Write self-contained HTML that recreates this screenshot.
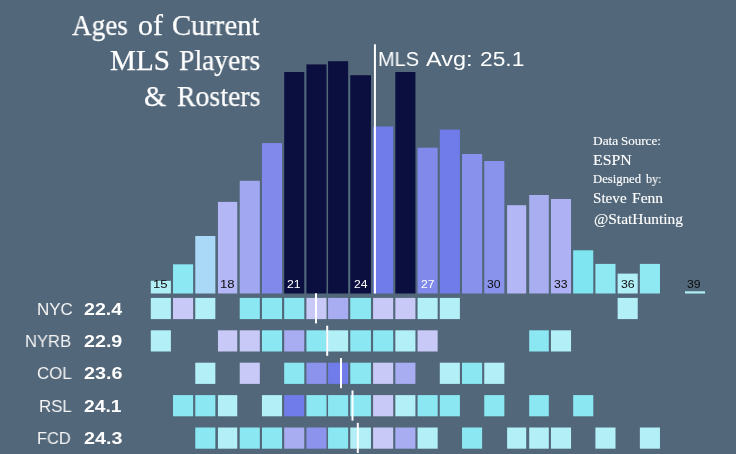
<!DOCTYPE html>
<html><head><meta charset="utf-8"><title>Ages of Current MLS Players &amp; Rosters</title>
<style>
html,body{margin:0;padding:0;background:#52677a;}
body{width:736px;height:454px;overflow:hidden;position:relative;font-family:"Liberation Sans",sans-serif;}
svg{position:absolute;left:0;top:0;}
.w{position:absolute;display:block;white-space:nowrap;color:#fff;transform-origin:0 0;will-change:transform;}
.se{font-family:"Liberation Serif",serif;-webkit-text-stroke:0.12px #fff;}
.tt{-webkit-text-stroke:0.25px #fff;}
.sa{font-family:"Liberation Sans",sans-serif;}
</style></head><body>
<svg width="736" height="454" viewBox="0 0 736 454">
<rect x="150.80" y="280.8" width="20.1" height="12.70" fill="#b0eff6"/>
<rect x="173.03" y="264.3" width="20.1" height="29.20" fill="#8ce9f3"/>
<rect x="195.26" y="236.0" width="20.1" height="57.50" fill="#a9d9f6"/>
<rect x="217.95" y="201.9" width="19.3" height="91.60" fill="#b4b7f6"/>
<rect x="239.72" y="180.8" width="20.1" height="112.70" fill="#a1a7f1"/>
<rect x="261.95" y="143.1" width="20.1" height="150.40" fill="#818aea"/>
<rect x="284.18" y="72.0" width="20.1" height="221.50" fill="#0a0f40"/>
<rect x="306.41" y="64.4" width="20.1" height="229.10" fill="#0a0f40"/>
<rect x="328.05" y="61.2" width="20.1" height="232.30" fill="#0a0f40"/>
<rect x="350.25" y="75.2" width="20.7" height="218.30" fill="#0a0f40"/>
<rect x="373.10" y="126.5" width="20.1" height="167.00" fill="#6f7cea"/>
<rect x="395.33" y="72.0" width="20.1" height="221.50" fill="#0a0f40"/>
<rect x="417.56" y="147.7" width="20.1" height="145.80" fill="#818aea"/>
<rect x="439.79" y="129.6" width="20.1" height="163.90" fill="#6f7cea"/>
<rect x="462.02" y="154.0" width="20.1" height="139.50" fill="#8891ec"/>
<rect x="484.25" y="161.0" width="20.1" height="132.50" fill="#8a93ec"/>
<rect x="507.10" y="205.2" width="19.1" height="88.30" fill="#b4b7f6"/>
<rect x="529.20" y="195.0" width="19.6" height="98.50" fill="#a9aef1"/>
<rect x="550.94" y="199.0" width="20.1" height="94.50" fill="#aeb2f4"/>
<rect x="573.17" y="250.3" width="20.1" height="43.20" fill="#7fe6f1"/>
<rect x="595.40" y="263.9" width="20.1" height="29.60" fill="#8fe9f3"/>
<rect x="617.63" y="273.6" width="20.1" height="19.90" fill="#b0eff6"/>
<rect x="639.86" y="263.9" width="20.1" height="29.60" fill="#8fe9f3"/>
<rect x="685.00" y="291.3" width="20.1" height="2.20" fill="#b0eff6"/>
<rect x="150.80" y="297.90" width="20.1" height="21.2" fill="#b2eff6"/>
<rect x="173.03" y="297.90" width="20.1" height="21.2" fill="#c9c9f8"/>
<rect x="195.26" y="297.90" width="20.1" height="21.2" fill="#b2eff6"/>
<rect x="239.72" y="297.90" width="20.1" height="21.2" fill="#8be8f3"/>
<rect x="261.95" y="297.90" width="20.1" height="21.2" fill="#8be8f3"/>
<rect x="284.18" y="297.90" width="20.1" height="21.2" fill="#8be8f3"/>
<rect x="306.41" y="297.90" width="20.1" height="21.2" fill="#c9c9f8"/>
<rect x="328.05" y="297.90" width="20.1" height="21.2" fill="#a8adf2"/>
<rect x="350.25" y="297.90" width="20.7" height="21.2" fill="#8be8f3"/>
<rect x="373.10" y="297.90" width="20.1" height="21.2" fill="#c9c9f8"/>
<rect x="395.33" y="297.90" width="20.1" height="21.2" fill="#c9c9f8"/>
<rect x="417.56" y="297.90" width="20.1" height="21.2" fill="#b2eff6"/>
<rect x="439.79" y="297.90" width="20.1" height="21.2" fill="#b2eff6"/>
<rect x="617.63" y="297.90" width="20.1" height="21.2" fill="#b2eff6"/>
<rect x="315.00" y="293.30" width="2" height="30.1" fill="#fff"/>
<rect x="150.80" y="330.30" width="20.1" height="21.2" fill="#b2eff6"/>
<rect x="217.95" y="330.30" width="19.3" height="21.2" fill="#c9c9f8"/>
<rect x="239.72" y="330.30" width="20.1" height="21.2" fill="#c9c9f8"/>
<rect x="261.95" y="330.30" width="20.1" height="21.2" fill="#8be8f3"/>
<rect x="284.18" y="330.30" width="20.1" height="21.2" fill="#a8adf2"/>
<rect x="306.41" y="330.30" width="20.1" height="21.2" fill="#8be8f3"/>
<rect x="328.05" y="330.30" width="20.1" height="21.2" fill="#b2eff6"/>
<rect x="350.25" y="330.30" width="20.7" height="21.2" fill="#8be8f3"/>
<rect x="373.10" y="330.30" width="20.1" height="21.2" fill="#8be8f3"/>
<rect x="395.33" y="330.30" width="20.1" height="21.2" fill="#b2eff6"/>
<rect x="417.56" y="330.30" width="20.1" height="21.2" fill="#c9c9f8"/>
<rect x="529.20" y="330.30" width="19.6" height="21.2" fill="#8be8f3"/>
<rect x="550.94" y="330.30" width="20.1" height="21.2" fill="#b2eff6"/>
<rect x="326.20" y="325.70" width="2" height="30.1" fill="#fff"/>
<rect x="195.26" y="362.70" width="20.1" height="21.2" fill="#b2eff6"/>
<rect x="239.72" y="362.70" width="20.1" height="21.2" fill="#c9c9f8"/>
<rect x="284.18" y="362.70" width="20.1" height="21.2" fill="#8be8f3"/>
<rect x="306.41" y="362.70" width="20.1" height="21.2" fill="#8b93ec"/>
<rect x="328.05" y="362.70" width="20.1" height="21.2" fill="#6f7cea"/>
<rect x="350.25" y="362.70" width="20.7" height="21.2" fill="#8be8f3"/>
<rect x="373.10" y="362.70" width="20.1" height="21.2" fill="#c9c9f8"/>
<rect x="395.33" y="362.70" width="20.1" height="21.2" fill="#a8adf2"/>
<rect x="439.79" y="362.70" width="20.1" height="21.2" fill="#b2eff6"/>
<rect x="462.02" y="362.70" width="20.1" height="21.2" fill="#8be8f3"/>
<rect x="484.25" y="362.70" width="20.1" height="21.2" fill="#b2eff6"/>
<rect x="340.00" y="358.10" width="2" height="30.1" fill="#fff"/>
<rect x="173.03" y="395.10" width="20.1" height="21.2" fill="#8be8f3"/>
<rect x="195.26" y="395.10" width="20.1" height="21.2" fill="#8be8f3"/>
<rect x="217.95" y="395.10" width="19.3" height="21.2" fill="#b2eff6"/>
<rect x="261.95" y="395.10" width="20.1" height="21.2" fill="#b2eff6"/>
<rect x="284.18" y="395.10" width="20.1" height="21.2" fill="#6f7cea"/>
<rect x="306.41" y="395.10" width="20.1" height="21.2" fill="#8be8f3"/>
<rect x="328.05" y="395.10" width="20.1" height="21.2" fill="#8be8f3"/>
<rect x="350.25" y="395.10" width="20.7" height="21.2" fill="#8be8f3"/>
<rect x="373.10" y="395.10" width="20.1" height="21.2" fill="#c9c9f8"/>
<rect x="395.33" y="395.10" width="20.1" height="21.2" fill="#b2eff6"/>
<rect x="417.56" y="395.10" width="20.1" height="21.2" fill="#8be8f3"/>
<rect x="439.79" y="395.10" width="20.1" height="21.2" fill="#8be8f3"/>
<rect x="484.25" y="395.10" width="20.1" height="21.2" fill="#8be8f3"/>
<rect x="529.20" y="395.10" width="19.6" height="21.2" fill="#8be8f3"/>
<rect x="573.17" y="395.10" width="20.1" height="21.2" fill="#8be8f3"/>
<rect x="351.50" y="390.50" width="2" height="30.1" fill="#fff"/>
<rect x="195.26" y="427.50" width="20.1" height="21.2" fill="#8be8f3"/>
<rect x="217.95" y="427.50" width="19.3" height="21.2" fill="#b2eff6"/>
<rect x="239.72" y="427.50" width="20.1" height="21.2" fill="#8be8f3"/>
<rect x="261.95" y="427.50" width="20.1" height="21.2" fill="#8be8f3"/>
<rect x="284.18" y="427.50" width="20.1" height="21.2" fill="#a8adf2"/>
<rect x="306.41" y="427.50" width="20.1" height="21.2" fill="#8b93ec"/>
<rect x="328.05" y="427.50" width="20.1" height="21.2" fill="#8be8f3"/>
<rect x="350.25" y="427.50" width="20.7" height="21.2" fill="#b2eff6"/>
<rect x="373.10" y="427.50" width="20.1" height="21.2" fill="#c9c9f8"/>
<rect x="395.33" y="427.50" width="20.1" height="21.2" fill="#a8adf2"/>
<rect x="417.56" y="427.50" width="20.1" height="21.2" fill="#b2eff6"/>
<rect x="462.02" y="427.50" width="20.1" height="21.2" fill="#8be8f3"/>
<rect x="507.10" y="427.50" width="19.1" height="21.2" fill="#b2eff6"/>
<rect x="529.20" y="427.50" width="19.6" height="21.2" fill="#b2eff6"/>
<rect x="550.94" y="427.50" width="20.1" height="21.2" fill="#b2eff6"/>
<rect x="595.40" y="427.50" width="20.1" height="21.2" fill="#b2eff6"/>
<rect x="639.86" y="427.50" width="20.1" height="21.2" fill="#b2eff6"/>
<rect x="356.80" y="422.90" width="2" height="30.1" fill="#fff"/>
<rect x="373.92" y="44.3" width="2" height="249.20" fill="#fff"/>
</svg>
<span class="w se tt" style="left:72.16px;top:7.5px;font-size:29px;line-height:35px;transform:scaleX(0.9372)">Ages</span>
<span class="w se tt" style="left:138.32px;top:7.5px;font-size:29px;line-height:35px;transform:scaleX(1.0282)">of</span>
<span class="w se tt" style="left:172.25px;top:7.5px;font-size:29px;line-height:35px;transform:scaleX(0.9869)">Current</span>
<span class="w se tt" style="left:109.89px;top:42.9px;font-size:29px;line-height:35px;transform:scaleX(1.0039)">MLS</span>
<span class="w se tt" style="left:178.75px;top:42.9px;font-size:29px;line-height:35px;transform:scaleX(0.9521)">Players</span>
<span class="w se tt" style="left:144.17px;top:78.8px;font-size:29px;line-height:35px;transform:scaleX(0.9831)">&amp;</span>
<span class="w se tt" style="left:176.94px;top:78.8px;font-size:29px;line-height:35px;transform:scaleX(0.9588)">Rosters</span>
<span class="w sa" style="left:378.14px;top:46.3px;font-size:20.5px;line-height:25px;transform:scaleX(0.9724)">MLS</span>
<span class="w sa" style="left:426.4px;top:46.3px;font-size:20.5px;line-height:25px;transform:scaleX(1.1465)">Avg:</span>
<span class="w sa" style="left:480.38px;top:46.3px;font-size:20.5px;line-height:25px;transform:scaleX(1.1109)">25.1</span>
<span class="w se" style="left:592.67px;top:134.3px;font-size:12.5px;line-height:15px;transform:scaleX(1.068)">Data</span>
<span class="w se" style="left:621.26px;top:134.3px;font-size:12.5px;line-height:15px;transform:scaleX(1.0421)">Source:</span>
<span class="w se" style="left:592.54px;top:151.0px;font-size:15px;line-height:18px;transform:scaleX(1.0556)">ESPN</span>
<span class="w se" style="left:592.63px;top:172.4px;font-size:12.5px;line-height:15px;transform:scaleX(1.0166)">Designed</span>
<span class="w se" style="left:645.7px;top:172.4px;font-size:12.5px;line-height:15px;transform:scaleX(0.9626)">by:</span>
<span class="w se" style="left:592.67px;top:189.1px;font-size:15px;line-height:18px;transform:scaleX(1.0081)">Steve</span>
<span class="w se" style="left:631.77px;top:189.1px;font-size:15px;line-height:18px;transform:scaleX(1.0365)">Fenn</span>
<span class="w se" style="left:593.72px;top:209.8px;font-size:15px;line-height:18px;transform:scaleX(1.0314)">@StatHunting</span>
<span class="w sa" style="left:36.75px;top:299.5px;font-size:17px;line-height:20px;transform:scaleX(0.9969);color:#f4f4f4">NYC</span>
<span class="w sa" style="left:84.02px;top:299.5px;font-size:17px;line-height:20px;transform:scaleX(1.1539);font-weight:bold">22.4</span>
<span class="w sa" style="left:25.17px;top:331.9px;font-size:17px;line-height:20px;transform:scaleX(0.975);color:#f4f4f4">NYRB</span>
<span class="w sa" style="left:84.02px;top:331.9px;font-size:17px;line-height:20px;transform:scaleX(1.158);font-weight:bold">22.9</span>
<span class="w sa" style="left:37.01px;top:364.4px;font-size:17px;line-height:20px;transform:scaleX(0.9883);color:#f4f4f4">COL</span>
<span class="w sa" style="left:83.82px;top:364.4px;font-size:17px;line-height:20px;transform:scaleX(1.1611);font-weight:bold">23.6</span>
<span class="w sa" style="left:38.96px;top:396.8px;font-size:17px;line-height:20px;transform:scaleX(0.9892);color:#f4f4f4">RSL</span>
<span class="w sa" style="left:83.83px;top:396.8px;font-size:17px;line-height:20px;transform:scaleX(1.131);font-weight:bold">24.1</span>
<span class="w sa" style="left:37.49px;top:429.3px;font-size:17px;line-height:20px;transform:scaleX(0.9599);color:#f4f4f4">FCD</span>
<span class="w sa" style="left:83.82px;top:429.3px;font-size:17px;line-height:20px;transform:scaleX(1.1611);font-weight:bold">24.3</span>
<span class="w sa" style="left:152.81px;top:278.45px;font-size:11px;line-height:13px;transform:scaleX(1.1933);color:#0c0c0c">15</span>
<span class="w sa" style="left:219.5px;top:278.45px;font-size:11px;line-height:13px;transform:scaleX(1.1945);color:#0c0c0c">18</span>
<span class="w sa" style="left:287.21px;top:278.45px;font-size:11px;line-height:13px;transform:scaleX(1.1153)">21</span>
<span class="w sa" style="left:353.91px;top:278.45px;font-size:11px;line-height:13px;transform:scaleX(1.0991)">24</span>
<span class="w sa" style="left:420.59px;top:278.45px;font-size:11px;line-height:13px;transform:scaleX(1.1094)">27</span>
<span class="w sa" style="left:487.24px;top:278.45px;font-size:11px;line-height:13px;transform:scaleX(1.1111);color:#0c0c0c">30</span>
<span class="w sa" style="left:553.93px;top:278.45px;font-size:11px;line-height:13px;transform:scaleX(1.1126);color:#0c0c0c">33</span>
<span class="w sa" style="left:620.62px;top:278.45px;font-size:11px;line-height:13px;transform:scaleX(1.113);color:#0c0c0c">36</span>
<span class="w sa" style="left:687.31px;top:278.45px;font-size:11px;line-height:13px;transform:scaleX(1.1122);color:#0c0c0c">39</span>
</body></html>
